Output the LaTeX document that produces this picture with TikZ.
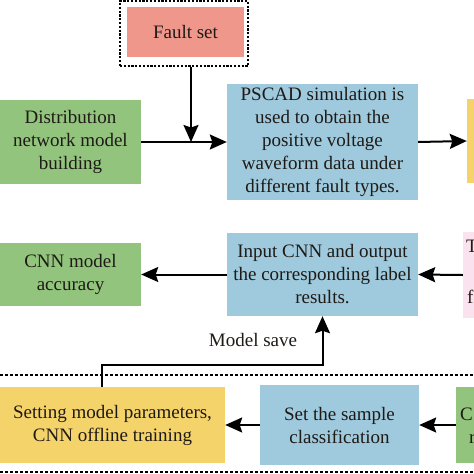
\documentclass[tikz,border=0pt]{standalone}
\usepackage{fontspec}
\setmainfont{Liberation Serif}
\usetikzlibrary{arrows.meta,calc}
\definecolor{salmon}{HTML}{F0978C}
\definecolor{boxgreen}{HTML}{93C47D}
\definecolor{boxblue}{HTML}{9FC9DD}
\definecolor{boxyellow}{HTML}{F5D36B}
\definecolor{lightpink}{HTML}{FAE3EF}
\definecolor{ink}{HTML}{1E1A16}
\begin{document}
\begin{tikzpicture}[x=1pt,y=-1pt,
  every node/.style={font=\rmfamily\fontsize{19}{23}\selectfont, text=ink},
  blk/.style={rectangle, inner sep=0pt, align=center, draw=none},
  arr/.style={line width=2pt, draw=black, -{Stealth[length=17pt,width=15pt,inset=2.5pt]}},
  ln/.style={line width=2pt, draw=black},
  dotbox/.style={line width=1.8pt, dash pattern=on 2.2pt off 1.6pt, draw=black},
  dline/.style={line width=1.4pt, dash pattern=on 3pt off 2pt, draw=black}]
\useasboundingbox (0,0) rectangle (474,474);
\clip (0,0) rectangle (474,474);
\fill[white] (0,0) rectangle (474,474);

% row 1
\node[blk, fill=salmon, minimum width=117pt, minimum height=50pt] (fault) at (185.5,32) {Fault set};
\node[dotbox, rectangle, minimum width=128pt, minimum height=65pt, inner sep=0pt] (faultframe) at (184,33.5) {};
\node[blk, fill=boxgreen, minimum width=141pt, minimum height=84pt] (dist) at (70.5,142) {Distribution\\network model\\building};
\node[blk, fill=boxblue, minimum width=191pt, minimum height=116pt] (pscad) at (322.5,142) {PSCAD simulation is\\used to obtain the\\positive voltage\\waveform data under\\different fault types.};
\node[blk, fill=boxyellow, minimum width=60pt, minimum height=84pt] (ybox) at (497,141) {};
\coordinate (join) at (191,142);

% row 2
\node[blk, fill=boxgreen, minimum width=141pt, minimum height=63pt] (acc) at (70.5,274.5) {CNN model\\accuracy};
\node[blk, fill=boxblue, minimum width=191pt, minimum height=83pt] (input) at (322.5,274.5) {Input CNN and output\\the corresponding label\\results.};
\node[blk, fill=lightpink, minimum width=60pt, minimum height=86pt] (pbox) at (493,275) {};
\node[anchor=base west, inner sep=0pt] (pT) at (466,252) {T};
\node[anchor=base west, inner sep=0pt] (pf) at (467,303) {f};

% row 3
\node[blk, fill=boxyellow, minimum width=225pt, minimum height=76pt] (train) at (112.5,425) {Setting model parameters,\\CNN offline training};
\node[blk, fill=boxblue, minimum width=159pt, minimum height=80pt] (sample) at (339.5,425) {Set the sample\\classification};
\node[blk, fill=boxgreen, minimum width=60pt, minimum height=76pt] (gbox) at (486,425) {};
\node[anchor=base west, inner sep=0pt] (gC) at (460,420) {C};
\node[anchor=base west, inner sep=0pt] (gr) at (469,443) {r};

% dashed separators
\coordinate (dl1a) at (0,375); \coordinate (dl1b) at (474,375);
\coordinate (dl2a) at (0,472); \coordinate (dl2b) at (474,472);
\draw[dline] (dl1a) -- (dl1b);
\draw[dline] (dl2a) -- (dl2b);

% connectors
\draw[arr] (faultframe.south -| join) -- (join);
\draw[ln] (dist.east) -- (join);
\draw[arr] (join) -- (pscad.west);
\draw[arr] (pscad.east) -- (ybox.west);
\draw[arr] (pbox.west) -- (input.east);
\draw[arr] (input.west) -- (acc.east);
\draw[arr] (gbox.west) -- (sample.east);
\draw[arr] (sample.west) -- (train.east);
\coordinate (bend) at (322.5,365);
\draw[arr] ([xshift=-10.5pt]train.north) |- (bend) -- (input.south);
\node (mslabel) at (253,340) {Model save};
\end{tikzpicture}
\end{document}
